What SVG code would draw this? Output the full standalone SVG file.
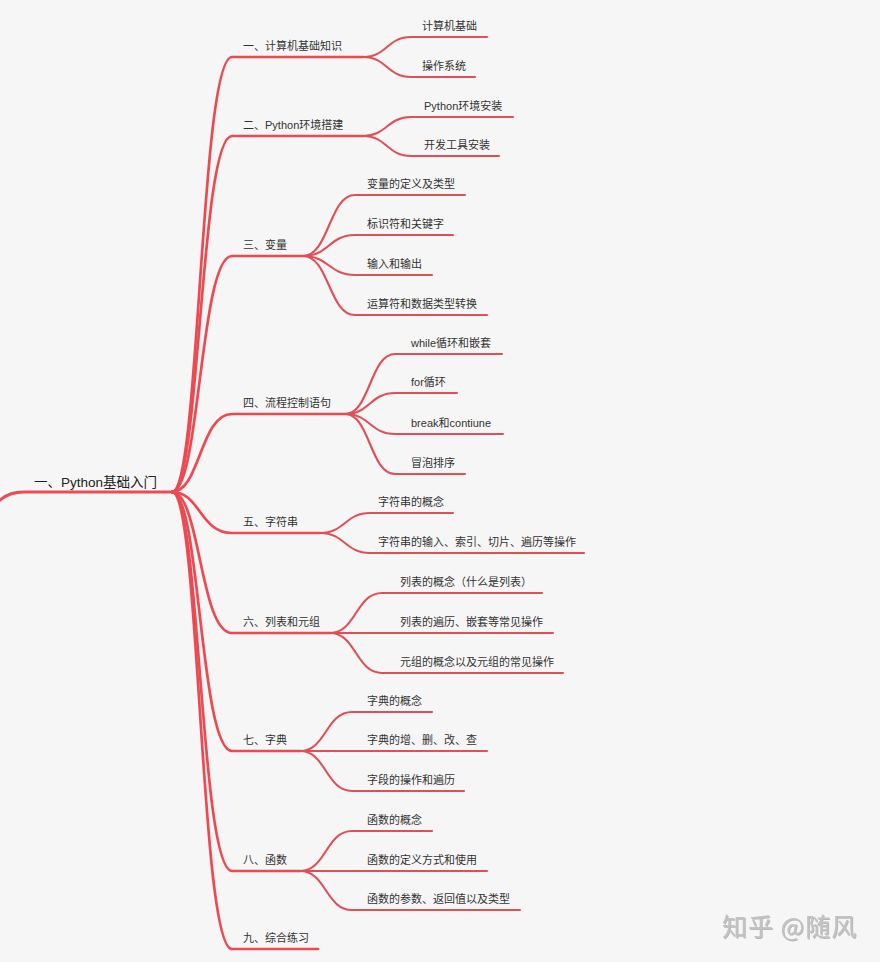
<svg xmlns="http://www.w3.org/2000/svg" width="880" height="962" viewBox="0 0 880 962">
<defs>
<style>
.bg{fill:#f6f6f6}
.l0{fill:none;stroke:#ef4a51;stroke-width:3;stroke-linecap:round}
.l1{fill:none;stroke:#ec4a52;stroke-width:2.7;stroke-linecap:round}
.l2{fill:none;stroke:#df4f57;stroke-width:2.1;stroke-linecap:round}
.t{font-family:"Liberation Sans","Noto Sans CJK SC",sans-serif;font-size:11px;fill:#333}
.root{font-family:"Liberation Sans","Noto Sans CJK SC",sans-serif;font-size:13.5px;fill:#222}
.wm{font-family:"Noto Sans CJK SC",sans-serif;font-size:25px;fill:#c2c2c2;letter-spacing:1px}
</style>
<filter id="sh" x="-10%" y="-20%" width="130%" height="150%">
<feDropShadow dx="1" dy="1" stdDeviation="0.6" flood-color="#777" flood-opacity="0.5"/>
</filter>
</defs>
<rect class="bg" x="0" y="0" width="880" height="962"/>
<g id="connectors">
<path class="l0" d="M0,500 C8,494 14,492 24,492 H172"/>
<path class="l1" d="M172,492 C200,492 200,57 232,57 H363"/>
<path class="l1" d="M172,492 C200,492 200,136 232,136 H363"/>
<path class="l1" d="M172,492 C200,492 200,256 232,256 H303"/>
<path class="l1" d="M172,492 C200,492 200,414 232,414 H345"/>
<path class="l1" d="M172,492 C200,492 200,533 232,533 H320"/>
<path class="l1" d="M172,492 C200,492 200,633 232,633 H330"/>
<path class="l1" d="M172,492 C200,492 200,751 232,751 H300"/>
<path class="l1" d="M172,492 C200,492 200,871 232,871 H300"/>
<path class="l1" d="M172,492 C200,492 200,949 232,949 H318"/>
<path class="l2" d="M363,57 C387,57 387,37 411,37 H487"/>
<path class="l2" d="M363,57 C387,57 387,77 411,77 H475"/>
<path class="l2" d="M363,136 C387,136 387,117 411,117 H513"/>
<path class="l2" d="M363,136 C387,136 387,156 411,156 H499"/>
<path class="l2" d="M303,256 C329,256 329,195 355,195 H465"/>
<path class="l2" d="M303,256 C329,256 329,235 355,235 H453"/>
<path class="l2" d="M303,256 C329,256 329,275 355,275 H432"/>
<path class="l2" d="M303,256 C329,256 329,315 355,315 H487"/>
<path class="l2" d="M345,414 C370,414 370,354 395,354 H502"/>
<path class="l2" d="M345,414 C370,414 370,393 395,393 H457"/>
<path class="l2" d="M345,414 C370,414 370,434 395,434 H503"/>
<path class="l2" d="M345,414 C370,414 370,474 395,474 H465"/>
<path class="l2" d="M320,533 C345,533 345,513 370,513 H453"/>
<path class="l2" d="M320,533 C345,533 345,553 370,553 H584"/>
<path class="l2" d="M330,633 C356,633 356,593 382,593 H542"/>
<path class="l2" d="M330,633 H553"/>
<path class="l2" d="M330,633 C356,633 356,673 382,673 H563"/>
<path class="l2" d="M300,751 C326,751 326,712 352,712 H432"/>
<path class="l2" d="M300,751 H487"/>
<path class="l2" d="M300,751 C326,751 326,791 352,791 H464"/>
<path class="l2" d="M300,871 C326,871 326,831 352,831 H432"/>
<path class="l2" d="M300,871 H487"/>
<path class="l2" d="M300,871 C326,871 326,910 352,910 H520"/>
</g>
<g id="root"><text class="root" x="34" y="487">一、Python基础入门</text></g>
<g id="n1"><text class="t" x="243" y="50">一、计算机基础知识</text></g>
<g id="n1a"><text class="t" x="422" y="30">计算机基础</text></g>
<g id="n1b"><text class="t" x="422" y="70">操作系统</text></g>
<g id="n2"><text class="t" x="243" y="129">二、Python环境搭建</text></g>
<g id="n2a"><text class="t" x="424" y="110">Python环境安装</text></g>
<g id="n2b"><text class="t" x="424" y="149">开发工具安装</text></g>
<g id="n3"><text class="t" x="243" y="249">三、变量</text></g>
<g id="n3a"><text class="t" x="367" y="188">变量的定义及类型</text></g>
<g id="n3b"><text class="t" x="367" y="228">标识符和关键字</text></g>
<g id="n3c"><text class="t" x="367" y="268">输入和输出</text></g>
<g id="n3d"><text class="t" x="367" y="308">运算符和数据类型转换</text></g>
<g id="n4"><text class="t" x="243" y="407">四、流程控制语句</text></g>
<g id="n4a"><text class="t" x="411" y="347">while循环和嵌套</text></g>
<g id="n4b"><text class="t" x="411" y="386">for循环</text></g>
<g id="n4c"><text class="t" x="411" y="427">break和contiune</text></g>
<g id="n4d"><text class="t" x="411" y="467">冒泡排序</text></g>
<g id="n5"><text class="t" x="243" y="526">五、字符串</text></g>
<g id="n5a"><text class="t" x="378" y="506">字符串的概念</text></g>
<g id="n5b"><text class="t" x="378" y="546">字符串的输入、索引、切片、遍历等操作</text></g>
<g id="n6"><text class="t" x="243" y="626">六、列表和元组</text></g>
<g id="n6a"><text class="t" x="400" y="586">列表的概念（什么是列表）</text></g>
<g id="n6b"><text class="t" x="400" y="626">列表的遍历、嵌套等常见操作</text></g>
<g id="n6c"><text class="t" x="400" y="666">元组的概念以及元组的常见操作</text></g>
<g id="n7"><text class="t" x="243" y="744">七、字典</text></g>
<g id="n7a"><text class="t" x="367" y="705">字典的概念</text></g>
<g id="n7b"><text class="t" x="367" y="744">字典的增、删、改、查</text></g>
<g id="n7c"><text class="t" x="367" y="784">字段的操作和遍历</text></g>
<g id="n8"><text class="t" x="243" y="864">八、函数</text></g>
<g id="n8a"><text class="t" x="367" y="824">函数的概念</text></g>
<g id="n8b"><text class="t" x="367" y="864">函数的定义方式和使用</text></g>
<g id="n8c"><text class="t" x="367" y="903">函数的参数、返回值以及类型</text></g>
<g id="n9"><text class="t" x="243" y="942">九、综合练习</text></g>
<g id="watermark"><text class="wm" x="722" y="936" filter="url(#sh)">知乎 @随风</text></g>
</svg>
